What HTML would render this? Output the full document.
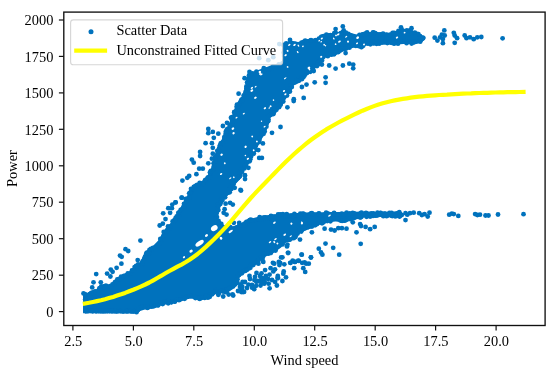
<!DOCTYPE html>
<html><head><meta charset="utf-8"><title>Wind speed vs Power</title>
<style>html,body{margin:0;padding:0;background:#fff;overflow:hidden}</style></head>
<body>
<svg width="550" height="373" viewBox="0 0 550 373" style="display:block">
<rect width="550" height="373" fill="#fff"/>
<g id="cloud" fill="#0072bd" stroke="none">
<path d="M83.1,313.3 L83.1,292.3 L87.1,293.3 L90.8,290.5 L96.2,289.6 L99.9,286.0 L103.5,284.1 L109.0,285.1 L114.4,280.5 L119.9,276.9 L125.4,273.2 L130.8,270.5 L134.5,265.9 L139.9,262.3 L142.4,257.7 L146.1,251.1 L153.4,245.6 L158.8,240.1 L162.5,232.8 L166.2,227.4 L171.6,221.9 L175.3,216.4 L178.9,211.0 L181.6,205.5 L184.4,200.0 L188.0,194.6 L188.8,192.1 L191.9,186.9 L197.4,183.3 L204.6,179.6 L208.3,174.2 L211.9,166.9 L213.8,159.6 L215.6,152.3 L218.3,145.0 L222.9,137.8 L224.7,130.5 L228.3,127.3 L231.0,118.0 L233.7,112.0 L236.4,104.6 L239.2,99.2 L244.6,93.7 L245.5,87.3 L246.4,82.8 L246.6,78.2 L249.2,73.8 L258.3,70.0 L263.8,68.2 L272.9,64.6 L282.9,62.8 L282.7,44.6 L290.0,41.0 L298.2,41.9 L307.3,39.1 L316.4,39.1 L324.6,33.8 L331.0,33.7 L335.6,31.1 L338.3,31.9 L342.8,29.4 L347.4,31.9 L356.5,34.6 L365.6,30.9 L371.1,33.7 L373.6,30.9 L380.9,32.8 L388.2,32.8 L393.7,31.9 L401.0,28.3 L404.6,29.1 L409.2,30.0 L411.5,29.2 L414.6,31.9 L419.2,33.7 L424.6,36.4 L424.6,40.1 L421.0,42.8 L413.7,44.6 L406.4,43.7 L397.3,44.6 L393.7,45.5 L388.2,44.6 L379.1,44.6 L374.7,45.5 L367.4,44.6 L362.0,48.3 L356.5,46.4 L349.2,49.2 L341.9,51.9 L334.6,55.5 L325.5,57.4 L321.9,62.8 L316.4,67.3 L311.0,71.9 L307.3,75.6 L304.6,76.4 L301.0,81.9 L293.7,85.5 L290.1,92.8 L286.4,98.3 L282.8,103.8 L280.0,108.0 L277.4,110.9 L270.1,118.2 L268.3,125.5 L264.7,132.8 L261.0,140.1 L257.4,147.4 L253.8,154.6 L250.1,161.9 L246.5,167.3 L242.9,172.8 L241.0,178.2 L235.8,183.7 L231.9,191.0 L226.5,196.4 L222.0,201.9 L220.0,207.0 L218.5,213.0 L217.5,218.0 L220.0,222.5 L225.0,225.5 L233.0,226.5 L239.6,224.0 L244.4,221.0 L250.0,218.0 L254.6,218.6 L258.3,216.3 L272.9,214.4 L283.8,213.5 L300.0,212.9 L330.0,212.0 L401.9,211.8 L401.9,216.9 L390.0,216.9 L373.8,216.9 L362.9,217.8 L351.9,220.5 L344.6,222.3 L335.5,221.4 L326.4,222.3 L319.1,225.1 L313.7,226.9 L308.2,229.6 L299.1,233.3 L295.5,238.7 L290.0,241.4 L285.6,242.8 L280.1,248.2 L273.3,252.9 L267.8,255.6 L262.4,258.6 L257.7,262.9 L253.3,266.5 L247.8,271.0 L242.3,274.6 L238.7,278.3 L236.0,284.0 L233.2,288.4 L226.0,291.5 L218.0,292.5 L212.0,296.0 L210.0,298.5 L200.0,299.5 L190.0,298.5 L180.0,301.5 L170.0,303.5 L160.0,305.7 L150.0,308.0 L140.0,311.0 L136.0,313.5Z"/>
<g id="fuzz"><circle cx="85.5" cy="310.7" r="2.4"/><circle cx="85.6" cy="310.6" r="2.4"/><circle cx="85.5" cy="309.2" r="2.4"/><circle cx="85.4" cy="308.4" r="2.4"/><circle cx="85.4" cy="306.8" r="2.4"/><circle cx="85.6" cy="305.1" r="2.4"/><circle cx="85.3" cy="302.9" r="2.4"/><circle cx="85.5" cy="301.8" r="2.4"/><circle cx="85.2" cy="299.4" r="2.4"/><circle cx="85.4" cy="297.8" r="2.4"/><circle cx="85.6" cy="295.6" r="2.4"/><circle cx="85.5" cy="294.9" r="2.4"/><circle cx="85.6" cy="294.9" r="2.4"/><circle cx="83.5" cy="293.4" r="2.4"/><circle cx="85.1" cy="294.5" r="2.4"/><circle cx="89.6" cy="294.2" r="2.4"/><circle cx="91.8" cy="293.6" r="2.4"/><circle cx="91.4" cy="293.2" r="2.4"/><circle cx="94.2" cy="292.1" r="2.4"/><circle cx="95.2" cy="291.4" r="2.4"/><circle cx="98.5" cy="290.8" r="2.4"/><circle cx="99.3" cy="288.4" r="2.4"/><circle cx="100.1" cy="288.1" r="2.4"/><circle cx="101.2" cy="286.3" r="2.4"/><circle cx="104.2" cy="286.6" r="2.4"/><circle cx="104.8" cy="287.3" r="2.4"/><circle cx="105.9" cy="285.7" r="2.4"/><circle cx="107.1" cy="286.7" r="2.4"/><circle cx="110.0" cy="286.1" r="2.4"/><circle cx="112.5" cy="284.4" r="2.4"/><circle cx="114.5" cy="283.6" r="2.4"/><circle cx="115.0" cy="282.1" r="2.4"/><circle cx="116.3" cy="281.7" r="2.4"/><circle cx="117.3" cy="279.4" r="2.4"/><circle cx="118.6" cy="279.5" r="2.4"/><circle cx="119.3" cy="278.9" r="2.4"/><circle cx="121.1" cy="276.7" r="2.4"/><circle cx="123.8" cy="277.3" r="2.4"/><circle cx="124.0" cy="275.9" r="2.4"/><circle cx="125.2" cy="275.8" r="2.4"/><circle cx="127.0" cy="275.7" r="2.4"/><circle cx="127.8" cy="273.3" r="2.4"/><circle cx="130.4" cy="273.6" r="2.4"/><circle cx="132.0" cy="270.4" r="2.4"/><circle cx="133.7" cy="270.1" r="2.4"/><circle cx="134.6" cy="267.1" r="2.4"/><circle cx="136.1" cy="265.9" r="2.4"/><circle cx="137.4" cy="266.5" r="2.4"/><circle cx="138.1" cy="264.5" r="2.4"/><circle cx="141.4" cy="264.7" r="2.4"/><circle cx="142.4" cy="263.3" r="2.4"/><circle cx="142.6" cy="261.3" r="2.4"/><circle cx="144.3" cy="259.6" r="2.4"/><circle cx="144.3" cy="258.7" r="2.4"/><circle cx="145.2" cy="256.3" r="2.4"/><circle cx="146.3" cy="253.5" r="2.4"/><circle cx="147.0" cy="252.7" r="2.4"/><circle cx="149.0" cy="252.9" r="2.4"/><circle cx="149.5" cy="249.9" r="2.4"/><circle cx="150.9" cy="248.8" r="2.4"/><circle cx="152.4" cy="249.1" r="2.4"/><circle cx="153.0" cy="247.8" r="2.4"/><circle cx="155.7" cy="247.7" r="2.4"/><circle cx="157.1" cy="245.9" r="2.4"/><circle cx="158.8" cy="244.6" r="2.4"/><circle cx="159.5" cy="243.5" r="2.4"/><circle cx="160.9" cy="241.0" r="2.4"/><circle cx="160.3" cy="239.0" r="2.4"/><circle cx="163.3" cy="237.6" r="2.4"/><circle cx="163.3" cy="236.4" r="2.4"/><circle cx="164.7" cy="235.1" r="2.4"/><circle cx="163.7" cy="231.9" r="2.4"/><circle cx="165.5" cy="231.9" r="2.4"/><circle cx="166.9" cy="231.7" r="2.4"/><circle cx="167.7" cy="229.7" r="2.4"/><circle cx="169.4" cy="228.3" r="2.4"/><circle cx="168.0" cy="226.4" r="2.4"/><circle cx="171.7" cy="225.9" r="2.4"/><circle cx="173.3" cy="224.8" r="2.4"/><circle cx="172.6" cy="221.5" r="2.4"/><circle cx="174.4" cy="220.1" r="2.4"/><circle cx="175.6" cy="220.1" r="2.4"/><circle cx="175.5" cy="218.2" r="2.4"/><circle cx="176.7" cy="216.3" r="2.4"/><circle cx="178.7" cy="216.1" r="2.4"/><circle cx="178.3" cy="212.9" r="2.4"/><circle cx="179.6" cy="211.8" r="2.4"/><circle cx="180.7" cy="210.0" r="2.4"/><circle cx="181.7" cy="209.6" r="2.4"/><circle cx="183.9" cy="208.1" r="2.4"/><circle cx="183.9" cy="206.6" r="2.4"/><circle cx="184.0" cy="203.8" r="2.4"/><circle cx="186.2" cy="201.0" r="2.4"/><circle cx="185.7" cy="199.0" r="2.4"/><circle cx="188.1" cy="198.6" r="2.4"/><circle cx="188.6" cy="198.5" r="2.4"/><circle cx="189.5" cy="197.2" r="2.4"/><circle cx="189.2" cy="193.3" r="2.4"/><circle cx="191.3" cy="191.6" r="2.4"/><circle cx="191.4" cy="189.8" r="2.4"/><circle cx="192.2" cy="189.2" r="2.4"/><circle cx="193.8" cy="187.0" r="2.4"/><circle cx="195.4" cy="187.0" r="2.4"/><circle cx="195.5" cy="185.9" r="2.4"/><circle cx="197.1" cy="184.8" r="2.4"/><circle cx="199.8" cy="184.5" r="2.4"/><circle cx="199.7" cy="182.8" r="2.4"/><circle cx="202.6" cy="183.8" r="2.4"/><circle cx="203.2" cy="183.5" r="2.4"/><circle cx="204.9" cy="180.6" r="2.4"/><circle cx="205.5" cy="180.0" r="2.4"/><circle cx="207.6" cy="177.8" r="2.4"/><circle cx="208.2" cy="177.4" r="2.4"/><circle cx="210.2" cy="177.2" r="2.4"/><circle cx="210.3" cy="173.4" r="2.4"/><circle cx="210.0" cy="172.3" r="2.4"/><circle cx="210.8" cy="171.0" r="2.4"/><circle cx="213.5" cy="169.8" r="2.4"/><circle cx="213.6" cy="169.1" r="2.4"/><circle cx="213.6" cy="166.9" r="2.4"/><circle cx="214.6" cy="165.1" r="2.4"/><circle cx="213.6" cy="163.2" r="2.4"/><circle cx="215.4" cy="161.3" r="2.4"/><circle cx="214.8" cy="158.7" r="2.4"/><circle cx="215.1" cy="157.2" r="2.4"/><circle cx="216.7" cy="155.5" r="2.4"/><circle cx="218.5" cy="153.9" r="2.4"/><circle cx="218.5" cy="152.5" r="2.4"/><circle cx="217.3" cy="150.8" r="2.4"/><circle cx="218.9" cy="149.0" r="2.4"/><circle cx="219.7" cy="146.1" r="2.4"/><circle cx="220.2" cy="145.5" r="2.4"/><circle cx="220.7" cy="143.4" r="2.4"/><circle cx="221.7" cy="142.9" r="2.4"/><circle cx="223.4" cy="141.7" r="2.4"/><circle cx="224.3" cy="139.1" r="2.4"/><circle cx="224.3" cy="137.1" r="2.4"/><circle cx="225.8" cy="134.8" r="2.4"/><circle cx="225.9" cy="133.5" r="2.4"/><circle cx="225.8" cy="131.7" r="2.4"/><circle cx="226.4" cy="131.4" r="2.4"/><circle cx="226.9" cy="129.4" r="2.4"/><circle cx="228.5" cy="128.3" r="2.4"/><circle cx="231.2" cy="126.6" r="2.4"/><circle cx="229.6" cy="125.1" r="2.4"/><circle cx="232.4" cy="123.7" r="2.4"/><circle cx="231.7" cy="123.0" r="2.4"/><circle cx="232.7" cy="121.7" r="2.4"/><circle cx="232.0" cy="119.8" r="2.4"/><circle cx="232.2" cy="117.1" r="2.4"/><circle cx="233.0" cy="116.8" r="2.4"/><circle cx="235.4" cy="115.2" r="2.4"/><circle cx="234.2" cy="112.4" r="2.4"/><circle cx="234.4" cy="111.8" r="2.4"/><circle cx="236.5" cy="110.1" r="2.4"/><circle cx="236.6" cy="106.8" r="2.4"/><circle cx="237.8" cy="106.9" r="2.4"/><circle cx="239.0" cy="104.8" r="2.4"/><circle cx="239.7" cy="103.6" r="2.4"/><circle cx="241.8" cy="101.2" r="2.4"/><circle cx="241.4" cy="99.9" r="2.4"/><circle cx="242.3" cy="99.5" r="2.4"/><circle cx="244.1" cy="96.9" r="2.4"/><circle cx="243.7" cy="95.4" r="2.4"/><circle cx="245.4" cy="92.5" r="2.4"/><circle cx="247.4" cy="92.3" r="2.4"/><circle cx="246.2" cy="90.6" r="2.4"/><circle cx="248.2" cy="88.9" r="2.4"/><circle cx="246.4" cy="86.5" r="2.4"/><circle cx="248.8" cy="83.7" r="2.4"/><circle cx="247.1" cy="82.5" r="2.4"/><circle cx="247.9" cy="79.2" r="2.4"/><circle cx="249.4" cy="79.7" r="2.4"/><circle cx="249.9" cy="76.8" r="2.4"/><circle cx="249.0" cy="75.5" r="2.4"/><circle cx="250.6" cy="74.4" r="2.4"/><circle cx="251.2" cy="73.9" r="2.4"/><circle cx="252.7" cy="73.3" r="2.4"/><circle cx="255.3" cy="73.8" r="2.4"/><circle cx="256.4" cy="71.6" r="2.4"/><circle cx="258.3" cy="73.2" r="2.4"/><circle cx="260.1" cy="72.2" r="2.4"/><circle cx="261.2" cy="72.0" r="2.4"/><circle cx="262.9" cy="71.4" r="2.4"/><circle cx="265.2" cy="70.3" r="2.4"/><circle cx="267.4" cy="69.5" r="2.4"/><circle cx="268.6" cy="69.3" r="2.4"/><circle cx="270.1" cy="69.2" r="2.4"/><circle cx="271.4" cy="68.7" r="2.4"/><circle cx="273.1" cy="66.4" r="2.4"/><circle cx="273.6" cy="66.5" r="2.4"/><circle cx="276.7" cy="67.0" r="2.4"/><circle cx="278.0" cy="65.8" r="2.4"/><circle cx="278.9" cy="64.5" r="2.4"/><circle cx="280.6" cy="65.1" r="2.4"/><circle cx="282.5" cy="63.4" r="2.4"/><circle cx="283.9" cy="62.2" r="2.4"/><circle cx="284.4" cy="60.0" r="2.4"/><circle cx="285.2" cy="58.8" r="2.4"/><circle cx="285.8" cy="57.7" r="2.4"/><circle cx="284.1" cy="56.1" r="2.4"/><circle cx="285.6" cy="54.1" r="2.4"/><circle cx="283.7" cy="52.7" r="2.4"/><circle cx="284.2" cy="49.8" r="2.4"/><circle cx="285.4" cy="49.1" r="2.4"/><circle cx="284.7" cy="47.4" r="2.4"/><circle cx="284.8" cy="46.0" r="2.4"/><circle cx="283.4" cy="45.0" r="2.4"/><circle cx="286.4" cy="44.8" r="2.4"/><circle cx="286.2" cy="43.5" r="2.4"/><circle cx="288.5" cy="44.3" r="2.4"/><circle cx="289.5" cy="43.7" r="2.4"/><circle cx="290.6" cy="43.0" r="2.4"/><circle cx="291.8" cy="43.1" r="2.4"/><circle cx="293.0" cy="43.9" r="2.4"/><circle cx="294.8" cy="43.7" r="2.4"/><circle cx="296.3" cy="44.9" r="2.4"/><circle cx="299.5" cy="44.3" r="2.4"/><circle cx="301.6" cy="42.7" r="2.4"/><circle cx="303.6" cy="41.8" r="2.4"/><circle cx="305.2" cy="40.6" r="2.4"/><circle cx="306.9" cy="41.7" r="2.4"/><circle cx="309.1" cy="42.0" r="2.4"/><circle cx="310.4" cy="40.6" r="2.4"/><circle cx="311.0" cy="40.1" r="2.4"/><circle cx="314.4" cy="40.6" r="2.4"/><circle cx="315.9" cy="40.1" r="2.4"/><circle cx="317.6" cy="40.5" r="2.4"/><circle cx="319.0" cy="38.6" r="2.4"/><circle cx="320.8" cy="37.5" r="2.4"/><circle cx="321.7" cy="36.6" r="2.4"/><circle cx="323.5" cy="36.1" r="2.4"/><circle cx="325.3" cy="37.2" r="2.4"/><circle cx="324.8" cy="36.1" r="2.4"/><circle cx="326.4" cy="34.7" r="2.4"/><circle cx="328.7" cy="35.3" r="2.4"/><circle cx="330.4" cy="35.1" r="2.4"/><circle cx="333.4" cy="36.1" r="2.4"/><circle cx="334.3" cy="33.2" r="2.4"/><circle cx="335.7" cy="33.1" r="2.4"/><circle cx="336.5" cy="34.6" r="2.4"/><circle cx="340.7" cy="33.6" r="2.4"/><circle cx="341.2" cy="33.2" r="2.4"/><circle cx="343.7" cy="32.0" r="2.4"/><circle cx="343.7" cy="30.5" r="2.4"/><circle cx="344.0" cy="32.6" r="2.4"/><circle cx="345.9" cy="32.7" r="2.4"/><circle cx="348.3" cy="33.8" r="2.4"/><circle cx="349.5" cy="35.7" r="2.4"/><circle cx="350.6" cy="35.5" r="2.4"/><circle cx="353.5" cy="36.3" r="2.4"/><circle cx="354.8" cy="37.5" r="2.4"/><circle cx="357.6" cy="36.9" r="2.4"/><circle cx="359.5" cy="34.8" r="2.4"/><circle cx="361.5" cy="35.3" r="2.4"/><circle cx="362.6" cy="34.3" r="2.4"/><circle cx="364.4" cy="34.6" r="2.4"/><circle cx="366.5" cy="33.5" r="2.4"/><circle cx="367.1" cy="32.4" r="2.4"/><circle cx="366.6" cy="33.6" r="2.4"/><circle cx="370.5" cy="34.1" r="2.4"/><circle cx="373.6" cy="34.8" r="2.4"/><circle cx="373.1" cy="32.4" r="2.4"/><circle cx="373.6" cy="32.6" r="2.4"/><circle cx="375.2" cy="33.2" r="2.4"/><circle cx="378.3" cy="35.1" r="2.4"/><circle cx="380.1" cy="34.5" r="2.4"/><circle cx="382.5" cy="34.1" r="2.4"/><circle cx="383.1" cy="33.6" r="2.4"/><circle cx="385.4" cy="36.0" r="2.4"/><circle cx="386.4" cy="34.7" r="2.4"/><circle cx="389.4" cy="35.1" r="2.4"/><circle cx="390.7" cy="34.8" r="2.4"/><circle cx="392.6" cy="33.0" r="2.4"/><circle cx="394.2" cy="33.0" r="2.4"/><circle cx="397.7" cy="33.2" r="2.4"/><circle cx="398.5" cy="31.0" r="2.4"/><circle cx="400.5" cy="31.3" r="2.4"/><circle cx="401.1" cy="30.7" r="2.4"/><circle cx="402.4" cy="30.3" r="2.4"/><circle cx="403.0" cy="30.9" r="2.4"/><circle cx="404.6" cy="32.3" r="2.4"/><circle cx="406.9" cy="30.5" r="2.4"/><circle cx="410.1" cy="30.4" r="2.4"/><circle cx="410.2" cy="31.5" r="2.4"/><circle cx="412.0" cy="33.3" r="2.4"/><circle cx="414.9" cy="32.7" r="2.4"/><circle cx="417.1" cy="34.0" r="2.4"/><circle cx="418.4" cy="34.2" r="2.4"/><circle cx="420.1" cy="36.1" r="2.4"/><circle cx="420.9" cy="38.1" r="2.4"/><circle cx="423.2" cy="38.0" r="2.4"/><circle cx="423.1" cy="37.8" r="2.4"/><circle cx="421.4" cy="38.8" r="2.4"/><circle cx="421.2" cy="39.0" r="2.4"/><circle cx="420.5" cy="40.2" r="2.4"/><circle cx="420.2" cy="41.7" r="2.4"/><circle cx="416.8" cy="41.2" r="2.4"/><circle cx="415.6" cy="41.6" r="2.4"/><circle cx="414.0" cy="42.3" r="2.4"/><circle cx="413.7" cy="41.7" r="2.4"/><circle cx="411.6" cy="43.6" r="2.4"/><circle cx="409.5" cy="41.4" r="2.4"/><circle cx="406.6" cy="43.2" r="2.4"/><circle cx="405.3" cy="40.9" r="2.4"/><circle cx="403.9" cy="40.9" r="2.4"/><circle cx="401.8" cy="41.1" r="2.4"/><circle cx="400.3" cy="41.7" r="2.4"/><circle cx="398.0" cy="43.7" r="2.4"/><circle cx="395.4" cy="42.9" r="2.4"/><circle cx="394.3" cy="43.5" r="2.4"/><circle cx="393.4" cy="43.1" r="2.4"/><circle cx="392.2" cy="42.7" r="2.4"/><circle cx="388.7" cy="41.7" r="2.4"/><circle cx="387.3" cy="43.1" r="2.4"/><circle cx="384.8" cy="41.9" r="2.4"/><circle cx="384.1" cy="42.0" r="2.4"/><circle cx="382.0" cy="42.5" r="2.4"/><circle cx="379.2" cy="43.7" r="2.4"/><circle cx="376.5" cy="41.8" r="2.4"/><circle cx="376.6" cy="43.8" r="2.4"/><circle cx="373.3" cy="43.3" r="2.4"/><circle cx="372.2" cy="41.9" r="2.4"/><circle cx="370.4" cy="44.3" r="2.4"/><circle cx="367.8" cy="43.7" r="2.4"/><circle cx="364.6" cy="43.4" r="2.4"/><circle cx="364.3" cy="43.3" r="2.4"/><circle cx="363.2" cy="45.8" r="2.4"/><circle cx="361.4" cy="47.2" r="2.4"/><circle cx="361.2" cy="46.8" r="2.4"/><circle cx="359.9" cy="45.7" r="2.4"/><circle cx="358.6" cy="46.0" r="2.4"/><circle cx="355.8" cy="45.9" r="2.4"/><circle cx="352.6" cy="45.3" r="2.4"/><circle cx="351.7" cy="45.5" r="2.4"/><circle cx="349.4" cy="47.7" r="2.4"/><circle cx="347.9" cy="46.4" r="2.4"/><circle cx="345.8" cy="48.7" r="2.4"/><circle cx="343.9" cy="48.3" r="2.4"/><circle cx="341.5" cy="48.6" r="2.4"/><circle cx="340.6" cy="50.3" r="2.4"/><circle cx="338.4" cy="52.0" r="2.4"/><circle cx="336.8" cy="52.2" r="2.4"/><circle cx="336.0" cy="51.9" r="2.4"/><circle cx="334.1" cy="54.3" r="2.4"/><circle cx="333.4" cy="52.4" r="2.4"/><circle cx="331.6" cy="54.7" r="2.4"/><circle cx="329.7" cy="53.9" r="2.4"/><circle cx="327.8" cy="56.2" r="2.4"/><circle cx="326.3" cy="54.0" r="2.4"/><circle cx="323.4" cy="56.7" r="2.4"/><circle cx="321.7" cy="58.1" r="2.4"/><circle cx="322.0" cy="60.5" r="2.4"/><circle cx="320.1" cy="60.6" r="2.4"/><circle cx="319.0" cy="62.0" r="2.4"/><circle cx="317.7" cy="62.8" r="2.4"/><circle cx="318.1" cy="64.4" r="2.4"/><circle cx="317.0" cy="66.0" r="2.4"/><circle cx="313.9" cy="65.8" r="2.4"/><circle cx="313.4" cy="67.1" r="2.4"/><circle cx="312.4" cy="69.9" r="2.4"/><circle cx="310.7" cy="69.2" r="2.4"/><circle cx="310.3" cy="71.8" r="2.4"/><circle cx="307.4" cy="71.1" r="2.4"/><circle cx="306.9" cy="72.9" r="2.4"/><circle cx="304.6" cy="75.5" r="2.4"/><circle cx="303.5" cy="77.1" r="2.4"/><circle cx="300.9" cy="77.8" r="2.4"/><circle cx="302.1" cy="79.0" r="2.4"/><circle cx="298.5" cy="79.8" r="2.4"/><circle cx="299.0" cy="80.4" r="2.4"/><circle cx="297.9" cy="80.8" r="2.4"/><circle cx="296.4" cy="80.5" r="2.4"/><circle cx="295.2" cy="82.2" r="2.4"/><circle cx="292.5" cy="82.8" r="2.4"/><circle cx="290.6" cy="85.7" r="2.4"/><circle cx="291.8" cy="87.0" r="2.4"/><circle cx="289.8" cy="88.7" r="2.4"/><circle cx="289.7" cy="89.1" r="2.4"/><circle cx="289.9" cy="91.6" r="2.4"/><circle cx="288.0" cy="91.8" r="2.4"/><circle cx="285.7" cy="93.6" r="2.4"/><circle cx="287.0" cy="95.5" r="2.4"/><circle cx="284.0" cy="96.2" r="2.4"/><circle cx="283.8" cy="96.6" r="2.4"/><circle cx="282.5" cy="99.5" r="2.4"/><circle cx="283.3" cy="101.6" r="2.4"/><circle cx="281.3" cy="101.5" r="2.4"/><circle cx="280.6" cy="104.3" r="2.4"/><circle cx="280.5" cy="104.8" r="2.4"/><circle cx="278.5" cy="105.6" r="2.4"/><circle cx="279.1" cy="107.2" r="2.4"/><circle cx="276.4" cy="109.8" r="2.4"/><circle cx="274.0" cy="109.8" r="2.4"/><circle cx="274.5" cy="111.0" r="2.4"/><circle cx="273.4" cy="114.1" r="2.4"/><circle cx="271.4" cy="113.2" r="2.4"/><circle cx="270.7" cy="114.9" r="2.4"/><circle cx="268.2" cy="116.1" r="2.4"/><circle cx="268.5" cy="119.4" r="2.4"/><circle cx="268.2" cy="121.3" r="2.4"/><circle cx="266.6" cy="122.4" r="2.4"/><circle cx="266.4" cy="123.7" r="2.4"/><circle cx="265.0" cy="125.3" r="2.4"/><circle cx="266.4" cy="126.7" r="2.4"/><circle cx="263.9" cy="127.4" r="2.4"/><circle cx="264.5" cy="129.2" r="2.4"/><circle cx="264.7" cy="131.6" r="2.4"/><circle cx="263.6" cy="133.8" r="2.4"/><circle cx="261.0" cy="133.3" r="2.4"/><circle cx="261.5" cy="135.0" r="2.4"/><circle cx="260.1" cy="137.3" r="2.4"/><circle cx="259.7" cy="138.0" r="2.4"/><circle cx="259.3" cy="140.4" r="2.4"/><circle cx="258.9" cy="142.2" r="2.4"/><circle cx="256.4" cy="142.7" r="2.4"/><circle cx="256.0" cy="144.6" r="2.4"/><circle cx="255.7" cy="145.8" r="2.4"/><circle cx="254.4" cy="147.2" r="2.4"/><circle cx="254.2" cy="148.0" r="2.4"/><circle cx="255.1" cy="150.1" r="2.4"/><circle cx="252.7" cy="151.5" r="2.4"/><circle cx="253.8" cy="153.5" r="2.4"/><circle cx="251.1" cy="154.1" r="2.4"/><circle cx="251.1" cy="156.6" r="2.4"/><circle cx="248.9" cy="157.6" r="2.4"/><circle cx="250.3" cy="159.2" r="2.4"/><circle cx="249.6" cy="161.3" r="2.4"/><circle cx="248.0" cy="160.6" r="2.4"/><circle cx="246.8" cy="161.9" r="2.4"/><circle cx="246.0" cy="165.0" r="2.4"/><circle cx="244.7" cy="166.0" r="2.4"/><circle cx="244.0" cy="167.4" r="2.4"/><circle cx="244.4" cy="168.4" r="2.4"/><circle cx="241.3" cy="169.7" r="2.4"/><circle cx="242.0" cy="171.4" r="2.4"/><circle cx="240.6" cy="172.4" r="2.4"/><circle cx="239.6" cy="173.9" r="2.4"/><circle cx="239.9" cy="176.3" r="2.4"/><circle cx="238.2" cy="177.2" r="2.4"/><circle cx="238.0" cy="178.0" r="2.4"/><circle cx="235.5" cy="180.0" r="2.4"/><circle cx="234.7" cy="180.9" r="2.4"/><circle cx="233.6" cy="184.0" r="2.4"/><circle cx="232.3" cy="183.8" r="2.4"/><circle cx="232.4" cy="186.4" r="2.4"/><circle cx="230.3" cy="187.6" r="2.4"/><circle cx="231.4" cy="189.1" r="2.4"/><circle cx="229.6" cy="189.8" r="2.4"/><circle cx="229.7" cy="192.3" r="2.4"/><circle cx="227.6" cy="192.9" r="2.4"/><circle cx="225.9" cy="194.0" r="2.4"/><circle cx="225.1" cy="197.3" r="2.4"/><circle cx="222.8" cy="196.5" r="2.4"/><circle cx="221.3" cy="198.4" r="2.4"/><circle cx="222.5" cy="200.0" r="2.4"/><circle cx="220.8" cy="202.3" r="2.4"/><circle cx="220.3" cy="204.0" r="2.4"/><circle cx="217.7" cy="205.0" r="2.4"/><circle cx="218.3" cy="206.6" r="2.4"/><circle cx="218.4" cy="210.1" r="2.4"/><circle cx="217.4" cy="210.8" r="2.4"/><circle cx="216.5" cy="213.2" r="2.4"/><circle cx="215.7" cy="214.4" r="2.4"/><circle cx="217.0" cy="217.1" r="2.4"/><circle cx="215.9" cy="219.1" r="2.4"/><circle cx="218.5" cy="221.0" r="2.4"/><circle cx="216.8" cy="222.7" r="2.4"/><circle cx="221.3" cy="223.9" r="2.4"/><circle cx="220.9" cy="226.7" r="2.4"/><circle cx="223.7" cy="227.3" r="2.4"/><circle cx="226.3" cy="227.2" r="2.4"/><circle cx="227.6" cy="228.7" r="2.4"/><circle cx="229.1" cy="228.7" r="2.4"/><circle cx="230.3" cy="227.1" r="2.4"/><circle cx="232.4" cy="229.2" r="2.4"/><circle cx="234.1" cy="228.4" r="2.4"/><circle cx="236.3" cy="227.6" r="2.4"/><circle cx="237.4" cy="227.6" r="2.4"/><circle cx="239.4" cy="224.9" r="2.4"/><circle cx="240.6" cy="225.4" r="2.4"/><circle cx="244.1" cy="225.0" r="2.4"/><circle cx="245.7" cy="223.7" r="2.4"/><circle cx="246.4" cy="222.0" r="2.4"/><circle cx="248.6" cy="221.5" r="2.4"/><circle cx="249.7" cy="220.1" r="2.4"/><circle cx="250.8" cy="219.6" r="2.4"/><circle cx="253.1" cy="220.5" r="2.4"/><circle cx="255.5" cy="219.9" r="2.4"/><circle cx="258.8" cy="219.1" r="2.4"/><circle cx="259.7" cy="217.2" r="2.4"/><circle cx="261.0" cy="218.8" r="2.4"/><circle cx="262.7" cy="218.8" r="2.4"/><circle cx="263.6" cy="217.7" r="2.4"/><circle cx="265.2" cy="217.5" r="2.4"/><circle cx="267.6" cy="218.3" r="2.4"/><circle cx="269.5" cy="217.9" r="2.4"/><circle cx="271.0" cy="215.8" r="2.4"/><circle cx="272.5" cy="217.6" r="2.4"/><circle cx="274.0" cy="216.6" r="2.4"/><circle cx="276.7" cy="217.0" r="2.4"/><circle cx="278.1" cy="214.5" r="2.4"/><circle cx="279.8" cy="214.9" r="2.4"/><circle cx="280.6" cy="214.3" r="2.4"/><circle cx="282.9" cy="214.2" r="2.4"/><circle cx="285.4" cy="216.3" r="2.4"/><circle cx="286.7" cy="214.1" r="2.4"/><circle cx="287.2" cy="215.7" r="2.4"/><circle cx="290.0" cy="216.1" r="2.4"/><circle cx="291.8" cy="215.7" r="2.4"/><circle cx="293.3" cy="216.0" r="2.4"/><circle cx="294.4" cy="213.8" r="2.4"/><circle cx="295.6" cy="215.6" r="2.4"/><circle cx="297.7" cy="215.4" r="2.4"/><circle cx="298.5" cy="215.7" r="2.4"/><circle cx="300.3" cy="213.6" r="2.4"/><circle cx="302.8" cy="213.6" r="2.4"/><circle cx="303.6" cy="213.9" r="2.4"/><circle cx="305.2" cy="214.6" r="2.4"/><circle cx="307.8" cy="215.0" r="2.4"/><circle cx="309.8" cy="214.4" r="2.4"/><circle cx="311.0" cy="213.4" r="2.4"/><circle cx="311.9" cy="213.1" r="2.4"/><circle cx="314.4" cy="214.7" r="2.4"/><circle cx="316.4" cy="215.0" r="2.4"/><circle cx="318.4" cy="214.0" r="2.4"/><circle cx="319.0" cy="213.5" r="2.4"/><circle cx="320.8" cy="215.1" r="2.4"/><circle cx="323.0" cy="215.4" r="2.4"/><circle cx="324.8" cy="214.7" r="2.4"/><circle cx="326.1" cy="212.7" r="2.4"/><circle cx="327.7" cy="213.5" r="2.4"/><circle cx="329.0" cy="215.3" r="2.4"/><circle cx="330.1" cy="214.9" r="2.4"/><circle cx="332.6" cy="214.1" r="2.4"/><circle cx="334.1" cy="212.8" r="2.4"/><circle cx="335.1" cy="214.6" r="2.4"/><circle cx="337.6" cy="215.2" r="2.4"/><circle cx="338.2" cy="214.3" r="2.4"/><circle cx="340.0" cy="214.3" r="2.4"/><circle cx="341.8" cy="213.6" r="2.4"/><circle cx="344.0" cy="214.7" r="2.4"/><circle cx="345.7" cy="213.9" r="2.4"/><circle cx="346.6" cy="212.6" r="2.4"/><circle cx="348.4" cy="214.8" r="2.4"/><circle cx="349.8" cy="213.5" r="2.4"/><circle cx="352.7" cy="213.0" r="2.4"/><circle cx="353.5" cy="214.5" r="2.4"/><circle cx="354.5" cy="213.4" r="2.4"/><circle cx="357.1" cy="214.2" r="2.4"/><circle cx="358.8" cy="214.0" r="2.4"/><circle cx="360.9" cy="213.2" r="2.4"/><circle cx="361.5" cy="212.7" r="2.4"/><circle cx="362.8" cy="213.7" r="2.4"/><circle cx="365.0" cy="214.5" r="2.4"/><circle cx="366.0" cy="213.0" r="2.4"/><circle cx="367.6" cy="213.7" r="2.4"/><circle cx="370.8" cy="214.8" r="2.4"/><circle cx="371.2" cy="213.5" r="2.4"/><circle cx="373.3" cy="213.4" r="2.4"/><circle cx="375.5" cy="214.7" r="2.4"/><circle cx="376.3" cy="214.3" r="2.4"/><circle cx="377.5" cy="212.7" r="2.4"/><circle cx="380.3" cy="213.2" r="2.4"/><circle cx="380.7" cy="212.8" r="2.4"/><circle cx="383.5" cy="213.8" r="2.4"/><circle cx="385.1" cy="213.9" r="2.4"/><circle cx="385.9" cy="214.8" r="2.4"/><circle cx="387.6" cy="215.0" r="2.4"/><circle cx="389.4" cy="213.0" r="2.4"/><circle cx="391.6" cy="212.8" r="2.4"/><circle cx="393.3" cy="214.4" r="2.4"/><circle cx="394.6" cy="213.9" r="2.4"/><circle cx="396.7" cy="213.6" r="2.4"/><circle cx="397.4" cy="213.3" r="2.4"/><circle cx="400.2" cy="214.5" r="2.4"/><circle cx="401.7" cy="215.1" r="2.4"/><circle cx="399.3" cy="212.2" r="2.4"/><circle cx="401.2" cy="214.8" r="2.4"/><circle cx="399.5" cy="216.5" r="2.4"/><circle cx="400.4" cy="214.5" r="2.4"/><circle cx="399.8" cy="216.1" r="2.4"/><circle cx="397.4" cy="215.5" r="2.4"/><circle cx="395.7" cy="216.3" r="2.4"/><circle cx="394.3" cy="216.0" r="2.4"/><circle cx="392.2" cy="216.0" r="2.4"/><circle cx="391.0" cy="215.6" r="2.4"/><circle cx="389.1" cy="214.5" r="2.4"/><circle cx="388.0" cy="215.3" r="2.4"/><circle cx="386.6" cy="216.2" r="2.4"/><circle cx="384.9" cy="213.7" r="2.4"/><circle cx="383.3" cy="216.2" r="2.4"/><circle cx="381.3" cy="214.0" r="2.4"/><circle cx="380.2" cy="213.7" r="2.4"/><circle cx="377.5" cy="215.4" r="2.4"/><circle cx="375.9" cy="215.7" r="2.4"/><circle cx="375.3" cy="215.3" r="2.4"/><circle cx="373.1" cy="215.9" r="2.4"/><circle cx="370.4" cy="216.4" r="2.4"/><circle cx="370.0" cy="216.3" r="2.4"/><circle cx="366.6" cy="216.8" r="2.4"/><circle cx="366.1" cy="214.8" r="2.4"/><circle cx="364.2" cy="214.5" r="2.4"/><circle cx="361.3" cy="217.1" r="2.4"/><circle cx="360.1" cy="217.5" r="2.4"/><circle cx="358.2" cy="216.4" r="2.4"/><circle cx="357.3" cy="216.1" r="2.4"/><circle cx="354.8" cy="217.0" r="2.4"/><circle cx="354.0" cy="217.8" r="2.4"/><circle cx="352.8" cy="217.6" r="2.4"/><circle cx="351.1" cy="219.4" r="2.4"/><circle cx="348.8" cy="218.8" r="2.4"/><circle cx="346.0" cy="220.0" r="2.4"/><circle cx="344.5" cy="220.7" r="2.4"/><circle cx="344.8" cy="220.2" r="2.4"/><circle cx="342.1" cy="220.9" r="2.4"/><circle cx="340.5" cy="220.6" r="2.4"/><circle cx="338.4" cy="219.0" r="2.4"/><circle cx="336.1" cy="218.4" r="2.4"/><circle cx="333.7" cy="218.7" r="2.4"/><circle cx="333.4" cy="218.9" r="2.4"/><circle cx="330.4" cy="221.3" r="2.4"/><circle cx="329.8" cy="220.0" r="2.4"/><circle cx="327.2" cy="221.1" r="2.4"/><circle cx="325.4" cy="220.6" r="2.4"/><circle cx="323.6" cy="222.3" r="2.4"/><circle cx="322.0" cy="223.3" r="2.4"/><circle cx="319.4" cy="222.1" r="2.4"/><circle cx="317.2" cy="223.7" r="2.4"/><circle cx="316.6" cy="224.3" r="2.4"/><circle cx="315.0" cy="225.3" r="2.4"/><circle cx="311.9" cy="226.5" r="2.4"/><circle cx="309.7" cy="226.3" r="2.4"/><circle cx="308.3" cy="227.1" r="2.4"/><circle cx="305.7" cy="227.3" r="2.4"/><circle cx="304.1" cy="227.8" r="2.4"/><circle cx="303.9" cy="228.6" r="2.4"/><circle cx="301.6" cy="230.2" r="2.4"/><circle cx="301.2" cy="231.5" r="2.4"/><circle cx="299.5" cy="231.0" r="2.4"/><circle cx="297.6" cy="233.4" r="2.4"/><circle cx="296.3" cy="234.8" r="2.4"/><circle cx="295.0" cy="235.1" r="2.4"/><circle cx="295.5" cy="237.0" r="2.4"/><circle cx="293.7" cy="238.2" r="2.4"/><circle cx="292.4" cy="237.9" r="2.4"/><circle cx="289.7" cy="239.7" r="2.4"/><circle cx="289.1" cy="239.6" r="2.4"/><circle cx="285.1" cy="240.2" r="2.4"/><circle cx="283.6" cy="241.3" r="2.4"/><circle cx="282.6" cy="244.4" r="2.4"/><circle cx="280.6" cy="243.7" r="2.4"/><circle cx="279.5" cy="245.5" r="2.4"/><circle cx="277.8" cy="246.3" r="2.4"/><circle cx="276.7" cy="247.2" r="2.4"/><circle cx="275.3" cy="250.0" r="2.4"/><circle cx="275.5" cy="250.6" r="2.4"/><circle cx="273.3" cy="250.2" r="2.4"/><circle cx="271.0" cy="252.8" r="2.4"/><circle cx="269.2" cy="252.6" r="2.4"/><circle cx="268.6" cy="253.5" r="2.4"/><circle cx="266.3" cy="253.3" r="2.4"/><circle cx="263.7" cy="254.2" r="2.4"/><circle cx="263.0" cy="257.1" r="2.4"/><circle cx="260.0" cy="258.2" r="2.4"/><circle cx="258.5" cy="259.5" r="2.4"/><circle cx="258.0" cy="260.5" r="2.4"/><circle cx="256.3" cy="262.4" r="2.4"/><circle cx="253.6" cy="263.6" r="2.4"/><circle cx="253.2" cy="265.1" r="2.4"/><circle cx="251.0" cy="264.9" r="2.4"/><circle cx="250.4" cy="267.8" r="2.4"/><circle cx="248.6" cy="268.6" r="2.4"/><circle cx="247.1" cy="269.8" r="2.4"/><circle cx="245.8" cy="269.9" r="2.4"/><circle cx="245.2" cy="270.9" r="2.4"/><circle cx="243.8" cy="271.1" r="2.4"/><circle cx="241.9" cy="273.3" r="2.4"/><circle cx="239.7" cy="273.6" r="2.4"/><circle cx="239.1" cy="274.9" r="2.4"/><circle cx="237.6" cy="276.3" r="2.4"/><circle cx="237.5" cy="279.3" r="2.4"/><circle cx="236.3" cy="279.9" r="2.4"/><circle cx="234.2" cy="282.6" r="2.4"/><circle cx="235.1" cy="284.4" r="2.4"/><circle cx="233.5" cy="284.6" r="2.4"/><circle cx="233.0" cy="286.6" r="2.4"/><circle cx="230.8" cy="287.4" r="2.4"/><circle cx="230.5" cy="287.7" r="2.4"/><circle cx="228.1" cy="289.2" r="2.4"/><circle cx="226.3" cy="289.7" r="2.4"/><circle cx="224.4" cy="289.8" r="2.4"/><circle cx="223.7" cy="291.1" r="2.4"/><circle cx="222.3" cy="290.6" r="2.4"/><circle cx="220.4" cy="291.0" r="2.4"/><circle cx="219.3" cy="291.8" r="2.4"/><circle cx="215.9" cy="290.1" r="2.4"/><circle cx="215.0" cy="291.7" r="2.4"/><circle cx="213.9" cy="292.4" r="2.4"/><circle cx="212.2" cy="294.3" r="2.4"/><circle cx="209.7" cy="294.8" r="2.4"/><circle cx="209.8" cy="296.8" r="2.4"/><circle cx="208.3" cy="296.8" r="2.4"/><circle cx="207.9" cy="297.7" r="2.4"/><circle cx="205.7" cy="296.2" r="2.4"/><circle cx="204.7" cy="297.9" r="2.4"/><circle cx="201.8" cy="297.8" r="2.4"/><circle cx="200.7" cy="297.7" r="2.4"/><circle cx="199.7" cy="298.9" r="2.4"/><circle cx="197.9" cy="297.8" r="2.4"/><circle cx="195.4" cy="298.0" r="2.4"/><circle cx="194.5" cy="296.5" r="2.4"/><circle cx="192.7" cy="295.8" r="2.4"/><circle cx="190.5" cy="296.2" r="2.4"/><circle cx="187.8" cy="296.5" r="2.4"/><circle cx="187.0" cy="296.7" r="2.4"/><circle cx="185.2" cy="297.1" r="2.4"/><circle cx="184.6" cy="298.8" r="2.4"/><circle cx="182.1" cy="298.1" r="2.4"/><circle cx="180.6" cy="299.3" r="2.4"/><circle cx="179.0" cy="300.2" r="2.4"/><circle cx="176.8" cy="299.8" r="2.4"/><circle cx="174.9" cy="301.6" r="2.4"/><circle cx="174.7" cy="301.6" r="2.4"/><circle cx="171.6" cy="302.1" r="2.4"/><circle cx="171.2" cy="302.3" r="2.4"/><circle cx="168.2" cy="300.6" r="2.4"/><circle cx="168.2" cy="303.3" r="2.4"/><circle cx="165.0" cy="301.9" r="2.4"/><circle cx="164.2" cy="301.8" r="2.4"/><circle cx="162.7" cy="304.0" r="2.4"/><circle cx="160.5" cy="302.7" r="2.4"/><circle cx="158.3" cy="305.0" r="2.4"/><circle cx="157.9" cy="305.4" r="2.4"/><circle cx="155.4" cy="305.6" r="2.4"/><circle cx="153.7" cy="306.3" r="2.4"/><circle cx="151.8" cy="306.6" r="2.4"/><circle cx="151.0" cy="306.4" r="2.4"/><circle cx="148.8" cy="307.1" r="2.4"/><circle cx="147.4" cy="307.9" r="2.4"/><circle cx="145.0" cy="306.8" r="2.4"/><circle cx="143.8" cy="306.8" r="2.4"/><circle cx="141.6" cy="307.2" r="2.4"/><circle cx="140.1" cy="308.0" r="2.4"/><circle cx="138.0" cy="310.0" r="2.4"/><circle cx="136.5" cy="312.2" r="2.4"/><circle cx="133.4" cy="311.3" r="2.4"/><circle cx="133.4" cy="311.2" r="2.4"/><circle cx="131.7" cy="311.3" r="2.4"/><circle cx="130.6" cy="311.1" r="2.4"/><circle cx="128.1" cy="311.0" r="2.4"/><circle cx="127.0" cy="311.2" r="2.4"/><circle cx="126.3" cy="311.2" r="2.4"/><circle cx="123.7" cy="311.3" r="2.4"/><circle cx="122.7" cy="311.3" r="2.4"/><circle cx="120.8" cy="311.1" r="2.4"/><circle cx="118.5" cy="310.9" r="2.4"/><circle cx="117.2" cy="311.2" r="2.4"/><circle cx="116.2" cy="311.3" r="2.4"/><circle cx="114.6" cy="311.1" r="2.4"/><circle cx="112.7" cy="311.2" r="2.4"/><circle cx="111.6" cy="311.1" r="2.4"/><circle cx="109.7" cy="311.1" r="2.4"/><circle cx="107.4" cy="311.0" r="2.4"/><circle cx="105.8" cy="311.0" r="2.4"/><circle cx="104.7" cy="311.0" r="2.4"/><circle cx="103.1" cy="311.3" r="2.4"/><circle cx="101.3" cy="311.2" r="2.4"/><circle cx="100.2" cy="311.0" r="2.4"/><circle cx="98.7" cy="311.1" r="2.4"/><circle cx="96.5" cy="311.2" r="2.4"/><circle cx="95.9" cy="311.1" r="2.4"/><circle cx="92.9" cy="311.1" r="2.4"/><circle cx="92.6" cy="311.0" r="2.4"/><circle cx="91.1" cy="310.9" r="2.4"/><circle cx="88.0" cy="311.1" r="2.4"/><circle cx="86.9" cy="311.1" r="2.4"/><circle cx="85.7" cy="311.1" r="2.4"/><circle cx="85.7" cy="311.1" r="2.4"/></g>
<g id="dots"><circle cx="96.2" cy="274.1" r="2.4"/><circle cx="93.5" cy="282.3" r="2.4"/><circle cx="92.2" cy="287.4" r="2.4"/><circle cx="100.8" cy="282.3" r="2.4"/><circle cx="107.1" cy="273.6" r="2.4"/><circle cx="110.8" cy="269.6" r="2.4"/><circle cx="112.6" cy="271.8" r="2.4"/><circle cx="110.4" cy="276.5" r="2.4"/><circle cx="116.6" cy="267.8" r="2.4"/><circle cx="121.4" cy="263.7" r="2.4"/><circle cx="121.7" cy="256.8" r="2.4"/><circle cx="137.7" cy="260.1" r="2.4"/><circle cx="140.4" cy="240.6" r="2.4"/><circle cx="125.5" cy="249.2" r="2.4"/><circle cx="128.2" cy="251.0" r="2.4"/><circle cx="120.0" cy="255.6" r="2.4"/><circle cx="163.2" cy="213.3" r="2.4"/><circle cx="165.5" cy="219.1" r="2.4"/><circle cx="162.8" cy="223.7" r="2.4"/><circle cx="159.7" cy="225.5" r="2.4"/><circle cx="168.3" cy="208.2" r="2.4"/><circle cx="171.9" cy="208.2" r="2.4"/><circle cx="170.1" cy="212.8" r="2.4"/><circle cx="172.3" cy="204.6" r="2.4"/><circle cx="175.6" cy="202.4" r="2.4"/><circle cx="181.6" cy="197.7" r="2.4"/><circle cx="190.1" cy="192.7" r="2.4"/><circle cx="182.4" cy="180.6" r="2.4"/><circle cx="187.3" cy="177.8" r="2.4"/><circle cx="189.2" cy="176.0" r="2.4"/><circle cx="191.0" cy="188.8" r="2.4"/><circle cx="196.4" cy="174.2" r="2.4"/><circle cx="199.2" cy="168.7" r="2.4"/><circle cx="202.8" cy="168.7" r="2.4"/><circle cx="191.9" cy="159.6" r="2.4"/><circle cx="193.7" cy="162.7" r="2.4"/><circle cx="200.1" cy="152.0" r="2.4"/><circle cx="200.1" cy="156.0" r="2.4"/><circle cx="208.3" cy="163.3" r="2.4"/><circle cx="211.9" cy="158.7" r="2.4"/><circle cx="205.6" cy="143.2" r="2.4"/><circle cx="211.9" cy="143.2" r="2.4"/><circle cx="212.8" cy="147.8" r="2.4"/><circle cx="213.8" cy="137.8" r="2.4"/><circle cx="208.3" cy="129.0" r="2.4"/><circle cx="208.3" cy="133.2" r="2.4"/><circle cx="212.8" cy="131.9" r="2.4"/><circle cx="218.3" cy="133.7" r="2.4"/><circle cx="222.9" cy="126.0" r="2.4"/><circle cx="248.4" cy="167.8" r="2.4"/><circle cx="244.7" cy="175.1" r="2.4"/><circle cx="240.5" cy="190.0" r="2.4"/><circle cx="234.7" cy="187.8" r="2.4"/><circle cx="227.0" cy="122.8" r="2.4"/><circle cx="231.0" cy="117.7" r="2.4"/><circle cx="237.0" cy="104.6" r="2.4"/><circle cx="212.8" cy="153.7" r="2.4"/><circle cx="181.8" cy="197.7" r="2.4"/><circle cx="175.5" cy="202.3" r="2.4"/><circle cx="280.5" cy="127.0" r="2.4"/><circle cx="272.0" cy="132.8" r="2.4"/><circle cx="262.9" cy="143.4" r="2.4"/><circle cx="258.3" cy="150.1" r="2.4"/><circle cx="259.2" cy="157.9" r="2.4"/><circle cx="261.9" cy="157.9" r="2.4"/><circle cx="287.4" cy="107.3" r="2.4"/><circle cx="273.8" cy="112.8" r="2.4"/><circle cx="293.7" cy="101.0" r="2.4"/><circle cx="245.0" cy="175.5" r="2.4"/><circle cx="245.0" cy="179.1" r="2.4"/><circle cx="241.0" cy="190.6" r="2.4"/><circle cx="230.1" cy="202.8" r="2.4"/><circle cx="232.8" cy="204.6" r="2.4"/><circle cx="225.6" cy="203.7" r="2.4"/><circle cx="224.6" cy="209.2" r="2.4"/><circle cx="223.7" cy="212.8" r="2.4"/><circle cx="226.5" cy="214.6" r="2.4"/><circle cx="233.8" cy="222.8" r="2.4"/><circle cx="239.2" cy="222.8" r="2.4"/><circle cx="219.2" cy="222.8" r="2.4"/><circle cx="238.6" cy="93.7" r="2.4"/><circle cx="246.4" cy="88.3" r="2.4"/><circle cx="244.6" cy="78.2" r="2.4"/><circle cx="249.5" cy="71.9" r="2.4"/><circle cx="263.8" cy="68.2" r="2.4"/><circle cx="293.8" cy="99.2" r="2.4"/><circle cx="345.6" cy="53.1" r="2.4"/><circle cx="349.3" cy="63.7" r="2.4"/><circle cx="342.9" cy="65.5" r="2.4"/><circle cx="335.6" cy="68.6" r="2.4"/><circle cx="329.2" cy="65.5" r="2.4"/><circle cx="325.6" cy="77.3" r="2.4"/><circle cx="325.6" cy="82.8" r="2.4"/><circle cx="314.7" cy="82.3" r="2.4"/><circle cx="306.5" cy="84.6" r="2.4"/><circle cx="301.9" cy="87.0" r="2.4"/><circle cx="303.7" cy="97.9" r="2.4"/><circle cx="342.8" cy="26.4" r="2.4"/><circle cx="335.6" cy="29.1" r="2.4"/><circle cx="290.0" cy="40.0" r="2.4"/><circle cx="353.2" cy="64.6" r="2.4"/><circle cx="353.2" cy="68.3" r="2.4"/><circle cx="313.7" cy="71.0" r="2.4"/><circle cx="321.9" cy="64.6" r="2.4"/><circle cx="401.0" cy="27.3" r="2.4"/><circle cx="411.5" cy="28.2" r="2.4"/><circle cx="434.7" cy="37.7" r="2.4"/><circle cx="437.4" cy="40.6" r="2.4"/><circle cx="440.1" cy="37.3" r="2.4"/><circle cx="441.9" cy="34.6" r="2.4"/><circle cx="444.3" cy="30.4" r="2.4"/><circle cx="444.7" cy="35.5" r="2.4"/><circle cx="442.9" cy="39.1" r="2.4"/><circle cx="442.9" cy="43.2" r="2.4"/><circle cx="453.8" cy="32.8" r="2.4"/><circle cx="454.7" cy="35.5" r="2.4"/><circle cx="457.1" cy="38.2" r="2.4"/><circle cx="454.7" cy="42.8" r="2.4"/><circle cx="464.7" cy="35.5" r="2.4"/><circle cx="466.5" cy="38.2" r="2.4"/><circle cx="470.0" cy="37.3" r="2.4"/><circle cx="473.7" cy="39.2" r="2.4"/><circle cx="477.3" cy="37.3" r="2.4"/><circle cx="481.3" cy="37.0" r="2.4"/><circle cx="502.6" cy="38.3" r="2.4"/><circle cx="300.0" cy="239.6" r="2.4"/><circle cx="311.9" cy="232.3" r="2.4"/><circle cx="324.6" cy="228.7" r="2.4"/><circle cx="331.0" cy="229.6" r="2.4"/><circle cx="334.6" cy="230.5" r="2.4"/><circle cx="338.3" cy="228.2" r="2.4"/><circle cx="341.9" cy="228.2" r="2.4"/><circle cx="346.5" cy="228.7" r="2.4"/><circle cx="356.5" cy="232.3" r="2.4"/><circle cx="360.1" cy="224.1" r="2.4"/><circle cx="361.0" cy="226.0" r="2.4"/><circle cx="365.6" cy="226.9" r="2.4"/><circle cx="370.1" cy="229.2" r="2.4"/><circle cx="374.7" cy="226.9" r="2.4"/><circle cx="352.8" cy="222.3" r="2.4"/><circle cx="325.5" cy="243.6" r="2.4"/><circle cx="318.8" cy="248.7" r="2.4"/><circle cx="321.0" cy="252.4" r="2.4"/><circle cx="322.4" cy="254.7" r="2.4"/><circle cx="333.2" cy="247.8" r="2.4"/><circle cx="339.2" cy="254.7" r="2.4"/><circle cx="360.7" cy="243.8" r="2.4"/><circle cx="301.8" cy="254.7" r="2.4"/><circle cx="310.9" cy="257.5" r="2.4"/><circle cx="292.7" cy="260.6" r="2.4"/><circle cx="298.2" cy="260.6" r="2.4"/><circle cx="304.6" cy="262.4" r="2.4"/><circle cx="287.4" cy="244.6" r="2.4"/><circle cx="288.3" cy="252.8" r="2.4"/><circle cx="281.1" cy="257.4" r="2.4"/><circle cx="280.1" cy="262.8" r="2.4"/><circle cx="272.9" cy="262.8" r="2.4"/><circle cx="262.8" cy="261.0" r="2.4"/><circle cx="290.2" cy="262.8" r="2.4"/><circle cx="294.7" cy="261.9" r="2.4"/><circle cx="405.5" cy="213.2" r="2.4"/><circle cx="407.3" cy="214.7" r="2.4"/><circle cx="405.5" cy="220.1" r="2.4"/><circle cx="410.0" cy="213.2" r="2.4"/><circle cx="413.7" cy="212.7" r="2.4"/><circle cx="419.2" cy="213.2" r="2.4"/><circle cx="421.9" cy="215.0" r="2.4"/><circle cx="424.6" cy="214.1" r="2.4"/><circle cx="427.7" cy="216.5" r="2.4"/><circle cx="429.5" cy="212.7" r="2.4"/><circle cx="449.2" cy="214.7" r="2.4"/><circle cx="451.9" cy="213.6" r="2.4"/><circle cx="453.8" cy="214.1" r="2.4"/><circle cx="458.3" cy="215.9" r="2.4"/><circle cx="475.1" cy="214.1" r="2.4"/><circle cx="477.4" cy="215.0" r="2.4"/><circle cx="480.0" cy="214.7" r="2.4"/><circle cx="485.5" cy="215.5" r="2.4"/><circle cx="488.5" cy="215.5" r="2.4"/><circle cx="498.0" cy="214.5" r="2.4"/><circle cx="523.5" cy="214.2" r="2.4"/><circle cx="287.0" cy="246.4" r="2.4"/><circle cx="287.9" cy="252.8" r="2.4"/><circle cx="282.4" cy="257.3" r="2.4"/><circle cx="278.8" cy="261.9" r="2.4"/><circle cx="274.2" cy="263.7" r="2.4"/><circle cx="270.6" cy="268.2" r="2.4"/><circle cx="265.1" cy="270.1" r="2.4"/><circle cx="258.4" cy="263.7" r="2.4"/><circle cx="263.3" cy="261.9" r="2.4"/><circle cx="290.6" cy="262.8" r="2.4"/><circle cx="294.2" cy="268.2" r="2.4"/><circle cx="295.1" cy="261.9" r="2.4"/><circle cx="298.8" cy="260.9" r="2.4"/><circle cx="301.5" cy="254.6" r="2.4"/><circle cx="302.1" cy="262.8" r="2.4"/><circle cx="306.1" cy="263.7" r="2.4"/><circle cx="308.8" cy="263.7" r="2.4"/><circle cx="311.0" cy="257.3" r="2.4"/><circle cx="303.3" cy="268.2" r="2.4"/><circle cx="305.2" cy="271.9" r="2.4"/><circle cx="269.6" cy="274.6" r="2.4"/><circle cx="277.8" cy="277.3" r="2.4"/><circle cx="283.3" cy="273.7" r="2.4"/><circle cx="286.0" cy="277.3" r="2.4"/><circle cx="282.4" cy="281.0" r="2.4"/><circle cx="276.9" cy="285.5" r="2.4"/><circle cx="275.1" cy="281.9" r="2.4"/><circle cx="269.6" cy="288.3" r="2.4"/><circle cx="268.7" cy="283.7" r="2.4"/><circle cx="260.5" cy="285.5" r="2.4"/><circle cx="264.2" cy="283.7" r="2.4"/><circle cx="254.2" cy="289.2" r="2.4"/><circle cx="244.1" cy="291.9" r="2.4"/><circle cx="233.2" cy="295.6" r="2.4"/><circle cx="228.7" cy="294.6" r="2.4"/><circle cx="223.2" cy="296.5" r="2.4"/><circle cx="218.6" cy="293.7" r="2.4"/><circle cx="245.0" cy="282.0" r="2.4"/><circle cx="250.0" cy="279.0" r="2.4"/><circle cx="255.0" cy="277.0" r="2.4"/><circle cx="260.0" cy="276.0" r="2.4"/><circle cx="265.0" cy="278.0" r="2.4"/><circle cx="272.0" cy="280.0" r="2.4"/><circle cx="258.0" cy="281.0" r="2.4"/><circle cx="252.0" cy="285.0" r="2.4"/><circle cx="247.0" cy="288.0" r="2.4"/><circle cx="240.0" cy="287.0" r="2.4"/><circle cx="262.0" cy="280.0" r="2.4"/><circle cx="268.0" cy="279.0" r="2.4"/><circle cx="243.0" cy="292.0" r="2.4"/><circle cx="238.0" cy="291.0" r="2.4"/><circle cx="284.3" cy="264.3" r="2.4"/><circle cx="256.4" cy="281.8" r="2.4"/><circle cx="256.1" cy="285.8" r="2.4"/><circle cx="283.7" cy="271.4" r="2.4"/><circle cx="237.5" cy="282.9" r="2.4"/><circle cx="277.8" cy="278.3" r="2.4"/><circle cx="242.6" cy="282.0" r="2.4"/><circle cx="229.3" cy="288.7" r="2.4"/><circle cx="249.5" cy="276.0" r="2.4"/><circle cx="218.3" cy="294.8" r="2.4"/><circle cx="279.4" cy="265.0" r="2.4"/><circle cx="225.6" cy="292.1" r="2.4"/><circle cx="252.1" cy="287.7" r="2.4"/><circle cx="242.2" cy="289.9" r="2.4"/><circle cx="242.3" cy="286.8" r="2.4"/><circle cx="264.7" cy="282.1" r="2.4"/><circle cx="233.6" cy="285.5" r="2.4"/><circle cx="241.1" cy="284.5" r="2.4"/><circle cx="241.3" cy="292.0" r="2.4"/><circle cx="254.4" cy="280.1" r="2.4"/><circle cx="227.0" cy="291.8" r="2.4"/><circle cx="265.9" cy="276.0" r="2.4"/><circle cx="248.4" cy="284.7" r="2.4"/><circle cx="261.7" cy="282.4" r="2.4"/><circle cx="232.6" cy="294.3" r="2.4"/><circle cx="223.0" cy="291.6" r="2.4"/><circle cx="256.5" cy="272.9" r="2.4"/><circle cx="277.8" cy="275.9" r="2.4"/><circle cx="260.5" cy="281.4" r="2.4"/><circle cx="261.5" cy="273.3" r="2.4"/><circle cx="275.0" cy="269.3" r="2.4"/><circle cx="261.4" cy="278.0" r="2.4"/><circle cx="264.3" cy="282.9" r="2.4"/><circle cx="273.3" cy="271.4" r="2.4"/><circle cx="279.3" cy="44.1" r="2.4"/><circle cx="259.2" cy="58.2" r="2.4"/><circle cx="268.3" cy="60.2" r="2.4"/><circle cx="273.3" cy="57.2" r="2.4"/></g>
<g id="holes" fill="#fff"><ellipse cx="245.6" cy="146.8" rx="1.2" ry="1.1" transform="rotate(-35 245.6 146.8)"/><ellipse cx="357.6" cy="37.7" rx="1.5" ry="1.2" transform="rotate(-35 357.6 37.7)"/><ellipse cx="321.2" cy="41.8" rx="0.9" ry="0.7" transform="rotate(-35 321.2 41.8)"/><ellipse cx="301.9" cy="223.4" rx="1.1" ry="1.0" transform="rotate(-35 301.9 223.4)"/><ellipse cx="221.1" cy="174.0" rx="1.3" ry="0.8" transform="rotate(-35 221.1 174.0)"/><ellipse cx="233.8" cy="177.3" rx="0.8" ry="0.9" transform="rotate(-35 233.8 177.3)"/><ellipse cx="251.8" cy="90.6" rx="1.5" ry="1.1" transform="rotate(-35 251.8 90.6)"/><ellipse cx="251.9" cy="87.9" rx="1.3" ry="0.8" transform="rotate(-35 251.9 87.9)"/><ellipse cx="224.8" cy="163.2" rx="0.9" ry="1.0" transform="rotate(-35 224.8 163.2)"/><ellipse cx="259.9" cy="72.0" rx="1.3" ry="1.2" transform="rotate(-35 259.9 72.0)"/><ellipse cx="297.7" cy="52.1" rx="0.7" ry="1.2" transform="rotate(-35 297.7 52.1)"/><ellipse cx="243.8" cy="113.6" rx="1.2" ry="0.7" transform="rotate(-35 243.8 113.6)"/><ellipse cx="284.7" cy="234.7" rx="1.5" ry="1.0" transform="rotate(-35 284.7 234.7)"/><ellipse cx="221.6" cy="154.7" rx="1.3" ry="1.1" transform="rotate(-35 221.6 154.7)"/><ellipse cx="301.9" cy="222.5" rx="0.8" ry="1.1" transform="rotate(-35 301.9 222.5)"/><ellipse cx="274.4" cy="222.7" rx="1.5" ry="0.9" transform="rotate(-35 274.4 222.7)"/><ellipse cx="397.0" cy="37.6" rx="1.3" ry="0.9" transform="rotate(-35 397.0 37.6)"/><ellipse cx="309.5" cy="69.5" rx="0.7" ry="0.9" transform="rotate(-35 309.5 69.5)"/><ellipse cx="264.9" cy="108.2" rx="1.3" ry="0.9" transform="rotate(-35 264.9 108.2)"/><ellipse cx="233.6" cy="133.2" rx="1.2" ry="1.1" transform="rotate(-35 233.6 133.2)"/><ellipse cx="275.5" cy="239.1" rx="1.4" ry="0.8" transform="rotate(-35 275.5 239.1)"/><ellipse cx="253.7" cy="150.2" rx="0.9" ry="1.0" transform="rotate(-35 253.7 150.2)"/><ellipse cx="338.2" cy="34.4" rx="1.5" ry="0.9" transform="rotate(-35 338.2 34.4)"/><ellipse cx="357.0" cy="43.3" rx="1.1" ry="0.8" transform="rotate(-35 357.0 43.3)"/><ellipse cx="232.9" cy="128.6" rx="1.4" ry="1.1" transform="rotate(-35 232.9 128.6)"/><ellipse cx="260.1" cy="73.9" rx="1.1" ry="0.9" transform="rotate(-35 260.1 73.9)"/><ellipse cx="274.3" cy="242.1" rx="0.9" ry="1.2" transform="rotate(-35 274.3 242.1)"/><ellipse cx="364.0" cy="44.4" rx="1.0" ry="0.9" transform="rotate(-35 364.0 44.4)"/><ellipse cx="261.5" cy="121.2" rx="0.7" ry="0.7" transform="rotate(-35 261.5 121.2)"/><ellipse cx="287.6" cy="50.8" rx="0.9" ry="1.1" transform="rotate(-35 287.6 50.8)"/><ellipse cx="339.5" cy="41.6" rx="1.5" ry="0.9" transform="rotate(-35 339.5 41.6)"/><ellipse cx="285.4" cy="94.3" rx="1.2" ry="0.9" transform="rotate(-35 285.4 94.3)"/><ellipse cx="290.8" cy="236.2" rx="1.3" ry="0.6" transform="rotate(-35 290.8 236.2)"/><ellipse cx="321.2" cy="56.8" rx="1.1" ry="1.0" transform="rotate(-35 321.2 56.8)"/><ellipse cx="284.0" cy="91.0" rx="1.2" ry="0.9" transform="rotate(-35 284.0 91.0)"/><ellipse cx="264.6" cy="126.6" rx="1.2" ry="0.7" transform="rotate(-35 264.6 126.6)"/><ellipse cx="324.2" cy="44.8" rx="0.8" ry="1.0" transform="rotate(-35 324.2 44.8)"/><ellipse cx="285.6" cy="55.2" rx="1.3" ry="0.9" transform="rotate(-35 285.6 55.2)"/><ellipse cx="247.9" cy="158.8" rx="1.3" ry="0.9" transform="rotate(-35 247.9 158.8)"/><ellipse cx="287.6" cy="66.9" rx="0.9" ry="0.9" transform="rotate(-35 287.6 66.9)"/><ellipse cx="230.3" cy="178.3" rx="1.3" ry="0.7" transform="rotate(-35 230.3 178.3)"/><ellipse cx="273.5" cy="100.1" rx="0.8" ry="0.8" transform="rotate(-35 273.5 100.1)"/><ellipse cx="270.6" cy="106.3" rx="1.0" ry="1.0" transform="rotate(-35 270.6 106.3)"/><ellipse cx="261.4" cy="74.4" rx="1.3" ry="0.8" transform="rotate(-35 261.4 74.4)"/><ellipse cx="294.5" cy="44.9" rx="1.4" ry="0.9" transform="rotate(-35 294.5 44.9)"/><ellipse cx="277.4" cy="243.5" rx="1.0" ry="0.9" transform="rotate(-35 277.4 243.5)"/><ellipse cx="325.5" cy="45.7" rx="0.7" ry="0.7" transform="rotate(-35 325.5 45.7)"/><ellipse cx="236.5" cy="117.6" rx="1.2" ry="0.7" transform="rotate(-35 236.5 117.6)"/><ellipse cx="346.2" cy="36.8" rx="1.2" ry="0.7" transform="rotate(-35 346.2 36.8)"/><ellipse cx="335.6" cy="44.2" rx="0.8" ry="0.9" transform="rotate(-35 335.6 44.2)"/><ellipse cx="333.8" cy="38.6" rx="0.7" ry="1.1" transform="rotate(-35 333.8 38.6)"/><ellipse cx="270.0" cy="242.1" rx="1.4" ry="0.7" transform="rotate(-35 270.0 242.1)"/><ellipse cx="308.9" cy="67.9" rx="1.4" ry="1.2" transform="rotate(-35 308.9 67.9)"/><ellipse cx="302.9" cy="46.3" rx="0.9" ry="0.8" transform="rotate(-35 302.9 46.3)"/><ellipse cx="255.4" cy="97.8" rx="1.4" ry="1.0" transform="rotate(-35 255.4 97.8)"/><ellipse cx="321.8" cy="38.5" rx="1.2" ry="0.8" transform="rotate(-35 321.8 38.5)"/><ellipse cx="256.9" cy="141.5" rx="0.9" ry="0.9" transform="rotate(-35 256.9 141.5)"/><ellipse cx="285.2" cy="78.2" rx="1.5" ry="0.6" transform="rotate(-35 285.2 78.2)"/><ellipse cx="298.4" cy="45.7" rx="0.7" ry="1.2" transform="rotate(-35 298.4 45.7)"/><ellipse cx="255.6" cy="86.7" rx="1.1" ry="0.7" transform="rotate(-35 255.6 86.7)"/><ellipse cx="348.0" cy="41.6" rx="1.0" ry="1.0" transform="rotate(-35 348.0 41.6)"/><ellipse cx="291.4" cy="223.6" rx="1.0" ry="1.1" transform="rotate(-35 291.4 223.6)"/><ellipse cx="245.4" cy="155.5" rx="0.8" ry="0.7" transform="rotate(-35 245.4 155.5)"/><ellipse cx="252.2" cy="136.5" rx="0.9" ry="0.9" transform="rotate(-35 252.2 136.5)"/><ellipse cx="289.3" cy="44.9" rx="1.3" ry="0.8" transform="rotate(-35 289.3 44.9)"/><ellipse cx="404.6" cy="32.7" rx="1.0" ry="0.8" transform="rotate(-35 404.6 32.7)"/><ellipse cx="319.2" cy="40.7" rx="1.0" ry="0.7" transform="rotate(-35 319.2 40.7)"/><ellipse cx="336.0" cy="35.4" rx="0.9" ry="0.9" transform="rotate(-35 336.0 35.4)"/><ellipse cx="269.3" cy="108.0" rx="0.9" ry="0.6" transform="rotate(-35 269.3 108.0)"/><ellipse cx="329.5" cy="215.6" rx="1.5" ry="0.8" transform="rotate(-35 329.5 215.6)"/><ellipse cx="214.3" cy="228.2" rx="3.6" ry="2.6" transform="rotate(-35 214.3 228.2)"/><ellipse cx="199.6" cy="243.2" rx="4.8" ry="2.2" transform="rotate(-35 199.6 243.2)"/><ellipse cx="191.1" cy="251.2" rx="1.8" ry="1.4" transform="rotate(-35 191.1 251.2)"/><ellipse cx="206.5" cy="235.5" rx="1.6" ry="1.2" transform="rotate(-35 206.5 235.5)"/><ellipse cx="184.0" cy="257.2" rx="1.2" ry="1.0" transform="rotate(-35 184.0 257.2)"/><ellipse cx="221.0" cy="238.3" rx="1.3" ry="1.5" transform="rotate(-35 221.0 238.3)"/><ellipse cx="230.7" cy="231.4" rx="2.5" ry="1.0" transform="rotate(-35 230.7 231.4)"/><ellipse cx="226.7" cy="226.6" rx="1.2" ry="1.2" transform="rotate(-35 226.7 226.6)"/></g>
</g>
<path d="M84.9,303.5 L88.9,302.8 L92.9,302.0 L97.0,301.1 L101.0,300.2 L105.0,299.2 L109.0,298.1 L113.1,296.9 L117.1,295.6 L121.1,294.3 L125.1,292.9 L129.2,291.3 L133.2,289.8 L137.2,288.1 L141.2,286.3 L145.3,284.5 L149.3,282.5 L153.3,280.3 L157.3,278.0 L161.4,275.7 L165.4,273.3 L169.4,271.0 L173.4,268.9 L177.4,266.7 L181.5,264.6 L185.5,262.3 L189.5,259.8 L193.5,257.0 L197.6,254.0 L201.6,250.6 L205.6,247.1 L209.6,243.4 L213.7,239.5 L217.7,235.5 L221.7,231.4 L225.7,227.1 L229.8,222.5 L233.8,217.8 L237.8,213.1 L241.8,208.3 L245.9,203.6 L249.9,199.0 L253.9,194.6 L257.9,190.4 L261.9,186.2 L266.0,182.0 L270.0,177.9 L274.0,173.7 L278.0,169.6 L282.1,165.5 L286.1,161.6 L290.1,157.7 L294.1,154.0 L298.2,150.4 L302.2,147.0 L306.2,143.7 L310.2,140.5 L314.3,137.5 L318.3,134.7 L322.3,132.0 L326.3,129.4 L330.4,127.0 L334.4,124.7 L338.4,122.5 L342.4,120.4 L346.5,118.4 L350.5,116.4 L354.5,114.4 L358.5,112.5 L362.5,110.7 L366.6,109.0 L370.6,107.4 L374.6,105.9 L378.6,104.5 L382.7,103.3 L386.7,102.2 L390.7,101.2 L394.7,100.4 L398.8,99.6 L402.8,98.9 L406.8,98.3 L410.8,97.7 L414.9,97.2 L418.9,96.7 L422.9,96.3 L426.9,95.9 L431.0,95.6 L435.0,95.3 L439.0,95.0 L443.0,94.8 L447.0,94.6 L451.1,94.3 L455.1,94.1 L459.1,93.9 L463.1,93.7 L467.2,93.5 L471.2,93.4 L475.2,93.2 L479.2,93.0 L483.3,92.9 L487.3,92.8 L491.3,92.6 L495.3,92.5 L499.4,92.4 L503.4,92.3 L507.4,92.2 L511.4,92.1 L515.5,92.1 L519.5,92.0 L523.5,91.9" fill="none" stroke="#ffff00" stroke-width="4.2" stroke-linecap="square" stroke-linejoin="round"/>
<rect x="63.8" y="12.1" width="481.3" height="313.4" fill="none" stroke="#111" stroke-width="1.35"/>
<g stroke="#111" stroke-width="1.2">
<line x1="72.9" y1="325.5" x2="72.9" y2="330.4"/>
<line x1="133.4" y1="325.5" x2="133.4" y2="330.4"/>
<line x1="193.8" y1="325.5" x2="193.8" y2="330.4"/>
<line x1="254.3" y1="325.5" x2="254.3" y2="330.4"/>
<line x1="314.7" y1="325.5" x2="314.7" y2="330.4"/>
<line x1="375.2" y1="325.5" x2="375.2" y2="330.4"/>
<line x1="435.6" y1="325.5" x2="435.6" y2="330.4"/>
<line x1="496.1" y1="325.5" x2="496.1" y2="330.4"/>
<line x1="58.9" y1="311.6" x2="63.8" y2="311.6"/>
<line x1="58.9" y1="275.2" x2="63.8" y2="275.2"/>
<line x1="58.9" y1="238.7" x2="63.8" y2="238.7"/>
<line x1="58.9" y1="202.2" x2="63.8" y2="202.2"/>
<line x1="58.9" y1="165.8" x2="63.8" y2="165.8"/>
<line x1="58.9" y1="129.3" x2="63.8" y2="129.3"/>
<line x1="58.9" y1="92.9" x2="63.8" y2="92.9"/>
<line x1="58.9" y1="56.4" x2="63.8" y2="56.4"/>
<line x1="58.9" y1="20.0" x2="63.8" y2="20.0"/>
</g>
<g font-family="'Liberation Serif', 'Times New Roman', serif" font-size="14.4" fill="#000">
<text x="73.2" y="346.4" text-anchor="middle">2.5</text>
<text x="133.7" y="346.4" text-anchor="middle">5.0</text>
<text x="194.1" y="346.4" text-anchor="middle">7.5</text>
<text x="254.6" y="346.4" text-anchor="middle">10.0</text>
<text x="315.0" y="346.4" text-anchor="middle">12.5</text>
<text x="375.5" y="346.4" text-anchor="middle">15.0</text>
<text x="435.9" y="346.4" text-anchor="middle">17.5</text>
<text x="496.4" y="346.4" text-anchor="middle">20.0</text>
<text x="53.4" y="316.8" text-anchor="end">0</text>
<text x="53.4" y="280.4" text-anchor="end">250</text>
<text x="53.4" y="243.9" text-anchor="end">500</text>
<text x="53.4" y="207.4" text-anchor="end">750</text>
<text x="53.4" y="171.0" text-anchor="end">1000</text>
<text x="53.4" y="134.5" text-anchor="end">1250</text>
<text x="53.4" y="98.1" text-anchor="end">1500</text>
<text x="53.4" y="61.6" text-anchor="end">1750</text>
<text x="53.4" y="25.2" text-anchor="end">2000</text>
<text x="304.5" y="364.8" text-anchor="middle">Wind speed</text>
<text transform="translate(16.6,168.5) rotate(-90)" text-anchor="middle">Power</text>
<rect x="70.6" y="19.9" width="212" height="44.8" rx="2.8" fill="#fff" fill-opacity="0.8" stroke="#cccccc" stroke-opacity="0.8" stroke-width="1.1"/>
<circle cx="91" cy="31.7" r="2.5" fill="#0072bd"/>
<line x1="76.3" y1="50.6" x2="105.0" y2="50.6" stroke="#ffff00" stroke-width="4.2" stroke-linecap="square"/>
<text x="116.4" y="35.3">Scatter Data</text>
<text x="116.4" y="55.3">Unconstrained Fitted Curve</text>
</g>
</svg>
</body></html>
